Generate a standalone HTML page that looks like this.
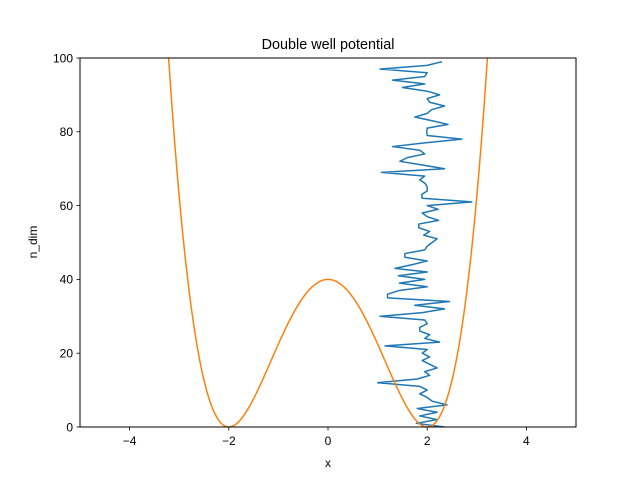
<!DOCTYPE html>
<html><head><meta charset="utf-8"><style>
body{margin:0;background:#fff}
svg{display:block;font-family:"Liberation Sans","DejaVu Sans",sans-serif}
</style></head><body>
<svg id="chart" width="640" height="480" viewBox="0 0 640 480">
<rect width="640" height="480" fill="#fff"/>
<defs><clipPath id="clip"><rect x="80" y="58" width="496" height="369"/></clipPath></defs>
<g id="marks" clip-path="url(#clip)"></g>
<rect x="80" y="58" width="496" height="369" fill="none" stroke="#000" stroke-width="1"/>
<g id="ticks"></g>
<text x="328" y="49" text-anchor="middle" font-size="14.4">Double well potential</text>
<text x="328" y="467" text-anchor="middle" font-size="12">x</text>
<text x="37" y="242" text-anchor="middle" font-size="12" transform="rotate(-90 37 242)">n_dim</text>
</svg>
<script>
const xTicks = [-4, -2, 0, 2, 4];
const yTicks = [0, 20, 40, 60, 80, 100];
const wellParams = [2.5, 2]; // V = a*(x^2 - r^2)^2
const walkX = [2.35,1.78,2.2,1.85,2.2,1.8,2.4,2.1,2.0,1.85,2.0,1.85,1.0,1.8,2.05,1.95,2.2,2.05,1.9,2.05,1.9,2.0,1.15,2.25,1.95,2.05,1.85,1.85,2.0,1.95,1.05,1.9,2.35,1.75,2.45,1.2,1.2,1.44,2.0,1.44,1.95,1.42,2.0,1.35,1.7,2.0,1.55,1.55,1.95,2.0,2.1,2.2,1.93,2.05,1.83,1.83,2.23,2.0,1.9,2.22,2.0,2.9,1.9,1.89,2.0,2.0,1.96,1.85,1.95,1.08,2.35,1.9,1.45,1.6,1.95,1.85,1.3,1.95,2.7,2.0,1.99,2.0,2.42,2.1,1.75,2.0,2.09,2.35,2.05,2.0,2.25,2.0,1.5,1.95,1.3,1.95,2.0,1.05,2.0,2.3];
const X0=80,X1=576,Y0=427,Y1=58;
const sx = v => X0 + (v + 5) / 10 * (X1 - X0);
const sy = v => Y0 - v / 100 * (Y0 - Y1);
const NS='http://www.w3.org/2000/svg';
const marks=document.getElementById('marks'), ticks=document.getElementById('ticks');
function mk(tag, attrs, parent){const e=document.createElementNS(NS,tag);for(const k in attrs)e.setAttribute(k,attrs[k]);parent.appendChild(e);return e;}
xTicks.forEach(t=>{
  const l=mk('line',{x1:sx(t),x2:sx(t),y1:Y0,y2:Y0+3.5,stroke:'#000','stroke-width':0.8},ticks);
  
  
  const tx=mk('text',{x:sx(t),y:Y0+18,'text-anchor':'middle','font-size':12},ticks);
  tx.textContent=(t<0?'\u2212'+(-t):''+t);
  
  
});
yTicks.forEach(t=>{
  const l=mk('line',{x1:X0-3.5,x2:X0,y1:sy(t),y2:sy(t),stroke:'#000','stroke-width':0.8},ticks);
  
  
  const tx=mk('text',{x:X0-7,y:sy(t)+4.3,'text-anchor':'end','font-size':12},ticks);
  tx.textContent=''+t;
  
  
});
// random walk series
const wp=walkX.map((v,i)=>sx(v).toFixed(2)+','+sy(i).toFixed(2)).join(' ');
const walk=mk('polyline',{points:wp,fill:'none',stroke:'#1f77b4','stroke-width':1.5,'stroke-linejoin':'round'},marks);


// potential curve
const pts=[];
for(let k=0;k<=400;k++){const x=-5+k*10/400;const v=wellParams[0]*Math.pow(x*x-wellParams[1]*wellParams[1],2);if(v<130)pts.push(sx(x).toFixed(2)+','+sy(v).toFixed(2));}
const pot=mk('polyline',{points:pts.join(' '),fill:'none',stroke:'#ff7f0e','stroke-width':1.5},marks);


</script>
</body></html>
